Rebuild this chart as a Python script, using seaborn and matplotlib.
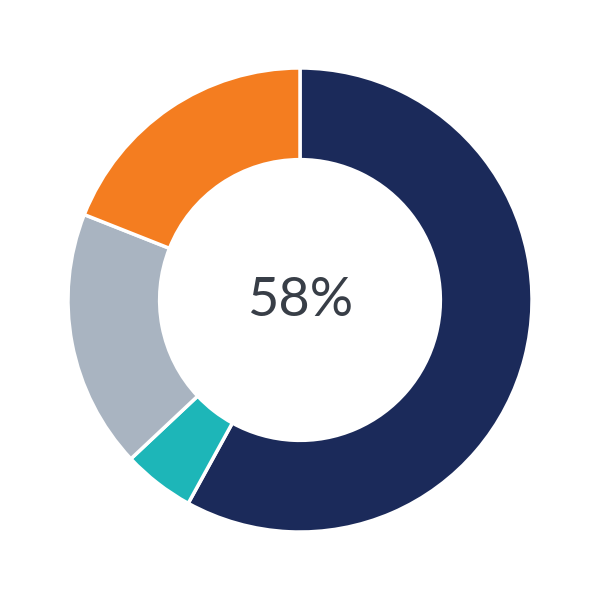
import matplotlib
matplotlib.use("Agg")
import matplotlib.pyplot as plt
import seaborn as sns

# slice values (percent), clockwise from 12 o'clock
labels = ["Navy", "Teal", "Gray", "Orange"]
values = [58, 5, 18, 19]
colors = ["#1b2a5a", "#1db6b8", "#a9b4c1", "#f47d20"]
center_text = "58%"

sns.set_theme(style="white")
plt.rcParams['font.family'] = ['Lato', 'DejaVu Sans']

fig, ax = plt.subplots(figsize=(6, 6), dpi=100)
fig.subplots_adjust(left=0, right=1, bottom=0, top=1)

ax.pie(values, colors=colors, startangle=90, counterclock=False,
       radius=1.0,
       wedgeprops=dict(width=0.395, edgecolor="white", linewidth=2.5))
ax.text(0, 0, center_text, ha="center", va="center",
        fontsize=39, color="#383e47", fontweight="normal")

ax.set_xlim(-1.293, 1.293)
ax.set_ylim(-1.293, 1.293)
ax.set_aspect("equal")
ax.axis("off")

plt.savefig("out.png", dpi=100, facecolor="white")
